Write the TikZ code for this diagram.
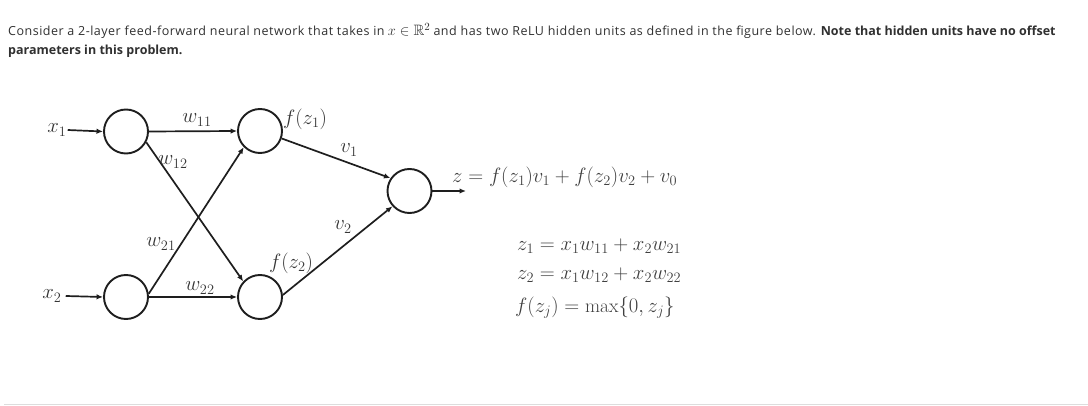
\documentclass[tikz,border=0pt]{standalone}
\usepackage{amsmath,amssymb}
\usepackage{fontspec}
\newfontfamily\uifont{Open Sans}
\usetikzlibrary{arrows.meta}
\definecolor{txt}{HTML}{303030}
\definecolor{ink}{HTML}{1E1E1E}
\definecolor{rule}{HTML}{DDDDDD}
\tikzset{
  neuron/.style={circle, draw=ink, line width=1.9pt, minimum size=44pt, inner sep=0pt},
  conn/.style={draw=ink, line width=1.7pt, -{Latex[length=6.5pt,width=5.5pt]}},
  lab/.style={inner sep=0pt, text=ink!90, font=\fontsize{20}{22}\selectfont},
  eqn/.style={inner sep=0pt, text=ink!85, font=\fontsize{21.5}{24}\selectfont, anchor=west},
  para/.style={inner sep=0pt, anchor=west, text=txt, font=\uifont\fontsize{12.5}{14}\selectfont}
}
\newcommand\spaced[1]{{\addfontfeatures{LetterSpace=4}#1}}
\begin{document}
\begin{tikzpicture}[x=1pt,y=-1pt]
\useasboundingbox (0,0) rectangle (1088,406);
% header text
\node[para] (l1) at (8,31) {\spaced{Consider a 2-layer feed-forward neural network that takes in} {\fontsize{15}{14}\selectfont$x\in\mathbb{R}^2$} \spaced{and has two ReLU hidden units as defined in the figure below.} \textbf{Note that hidden units have no offset}};
\node[para] (l2) at (8,51) {\textbf{parameters in this problem.}};
% neurons
\node[neuron] (i1) at (126,131.5) {};
\node[neuron] (i2) at (126,297) {};
\node[neuron] (h1) at (260,131) {};
\node[neuron] (h2) at (260,297) {};
\node[neuron] (o) at (409.5,191) {};
% input labels
\node[lab] (x1) at (57,130) {$x_1$};
\node[lab] (x2) at (52,296) {$x_2$};
\coordinate (out) at (466,191);
% connectors
\draw[conn] (x1.east) ++(1,0) coordinate (x1s) -- (i1.west);
\draw[conn] (x2.east) ++(4,0) coordinate (x2s) -- (i2.west);
\draw[conn] (i1.east) -- (h1.west);
\draw[conn] (i2.east) -- (h2.west);
\draw[conn] (i1.-28) -- (h2.137);
\draw[conn] (i2.8) -- (h1.225);
\draw[conn] (h1.-19) -- (o.146);
\draw[conn] (h2.5) -- (o.222);
\draw[conn] (o.east) -- (out);
% weight labels
\node[lab] (w11) at (197,120) {$w_{11}$};
\node[lab] (w12) at (173,162) {$w_{12}$};
\node[lab] (w21) at (161,244) {$w_{21}$};
\node[lab] (w22) at (200,288) {$w_{22}$};
\node[lab] (f1) at (305,119) {$f(z_1)$};
\node[lab] (f2) at (291,263) {$f(z_2)$};
\node[lab] (v1) at (349,150) {$v_1$};
\node[lab] (v2) at (343,227) {$v_2$};
% equations
\node[eqn] (ez) at (452,177) {$z = f(z_1)v_1 + f(z_2)v_2 + v_0$};
\node[eqn] (e1) at (517,246) {$z_1 = x_1w_{11} + x_2w_{21}$};
\node[eqn] (e2) at (517,275) {$z_2 = x_1w_{12} + x_2w_{22}$};
\node[eqn, font=\fontsize{19.5}{22}\selectfont] (e3) at (515,308) {$f(z_j) = \max\{0, z_j\}$};
% bottom rule
\draw[rule, line width=1.5pt] (4,404.5) -- (1088,404.5);
\end{tikzpicture}
\end{document}
